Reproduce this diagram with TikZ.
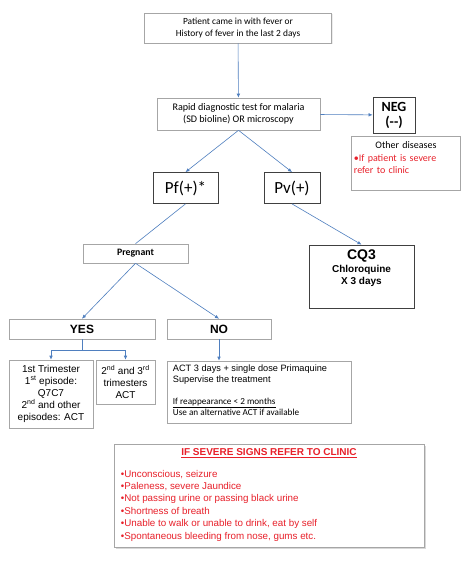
\documentclass[tikz,border=0pt]{standalone}
\usepackage{fontspec}
\setmainfont{Liberation Sans}
\newfontfamily\calfont{Carlito}
\usetikzlibrary{arrows.meta,positioning,shadows,calc}
\definecolor{arrowblue}{HTML}{4F7FBF}
\definecolor{boxgray}{HTML}{A6A6A6}
\definecolor{darkedge}{HTML}{404040}
\definecolor{alertred}{HTML}{E8202A}

\begin{document}
\begin{tikzpicture}[x=1pt, y=-1pt,
    lightbox/.style={draw=boxgray, line width=0.6pt, fill=white, inner sep=0pt,
        drop shadow={opacity=0.15, shadow xshift=1pt, shadow yshift=-1pt}},
    darkbox/.style={draw=darkedge, line width=0.8pt, fill=white, inner sep=0pt},
    conn/.style={draw=arrowblue, line width=0.6pt},
    arr/.style={conn, -{Latex[length=4pt,width=3.5pt]}}
    ]
        \useasboundingbox[fill=white] (0,0) rectangle (474,564);

        % Entry
        \node[lightbox, minimum width=187pt, minimum height=30pt, align=center,
              font=\calfont\fontsize{9.4}{12}\selectfont] (fever) at (238,28)
            {Patient came in with fever or\\History of fever in the last 2 days};

        % Test
        \node[lightbox, minimum width=163pt, minimum height=32pt, align=center,
              font=\calfont\fontsize{10.1}{12}\selectfont] (rdt) at (238.5,114)
            {Rapid diagnostic test for malaria\\(SD bioline) OR microscopy};

        % Negative branch
        \node[darkbox, minimum width=42pt, minimum height=36pt, align=center,
              font=\calfont\bfseries\fontsize{14}{15}\selectfont] (neg) at (394,115)
            {NEG\\(-{}-)};
        \node[lightbox, minimum width=109pt, minimum height=54pt] (other) at (405.5,163) {};
        \node[anchor=north west, inner sep=0pt, text width=104pt, align=left,
              font=\calfont\fontsize{10}{12.5}\selectfont] (othertxt) at ($(other.north west)+(3,6)$)
            {\makebox[\linewidth]{Other diseases}\\
             \textcolor{alertred}{•If patient is severe}\\
             \textcolor{alertred}{refer to clinic}};

        % Species
        \node[darkbox, minimum width=65pt, minimum height=31pt,
              font=\calfont\fontsize{17}{20}\selectfont] (pf) at (185.5,188) {Pf(+)*};
        \node[darkbox, minimum width=56pt, minimum height=31pt,
              font=\calfont\fontsize{17}{20}\selectfont] (pv) at (292,188) {Pv(+)};

        % Vivax treatment
        \node[darkbox, minimum width=105pt, minimum height=63pt] (cq) at (361.5,276.5) {};
        \node[anchor=north, inner sep=0pt, align=center,
              font=\bfseries\fontsize{10}{12.5}\selectfont] (cqtxt) at ($(cq.north)+(0,5)$)
            {{\fontsize{14}{16}\selectfont CQ3}\\Chloroquine\\X 3 days};

        % Falciparum
        \node[lightbox, minimum width=105pt, minimum height=19pt,
              font=\calfont\bfseries\fontsize{9.8}{11}\selectfont] (preg) at (135.5,253.5) {Pregnant};
        \node[lightbox, minimum width=146pt, minimum height=20pt,
              font=\bfseries\fontsize{12}{13}\selectfont] (yes) at (82,329) {YES};
        \node[lightbox, minimum width=104pt, minimum height=20pt,
              font=\bfseries\fontsize{12}{13}\selectfont] (no) at (219,329) {NO};

        \node[lightbox, minimum width=84pt, minimum height=68pt, align=center,
              font=\fontsize{10}{12}\selectfont] (tri1) at (51,394)
            {1st Trimester\\1\textsuperscript{st} episode:\\Q7C7\\2\textsuperscript{nd} and other\\episodes: ACT};
        \node[lightbox, minimum width=59pt, minimum height=44pt, align=center,
              font=\fontsize{10}{12}\selectfont] (tri23) at (125.5,382)
            {2\textsuperscript{nd} and 3\textsuperscript{rd}\\trimesters\\ACT};

        \node[lightbox, minimum width=184pt, minimum height=62pt] (act) at (259,392) {};
        \node[anchor=north west, inner sep=0pt, align=left,
              font=\fontsize{9.2}{11}\selectfont] (acttxt) at ($(act.north west)+(6,4)$)
            {ACT 3 days + single dose Primaquine\\Supervise the treatment};
        \node[anchor=north west, inner sep=0pt, align=left,
              font=\calfont\fontsize{9.2}{11}\selectfont] (actnote) at ($(act.north west)+(6,37)$)
            {\underline{If reappearance < 2 months}\\Use an alternative ACT if available};

        % Danger signs
        \node[lightbox, minimum width=310pt, minimum height=103pt,
              drop shadow={opacity=0.3, shadow xshift=1.5pt, shadow yshift=-1.5pt}] (severe) at (269,495.5) {};
        \node[inner sep=0pt, text=alertred, font=\bfseries\fontsize{10}{11}\selectfont] (severetitle) at (269,453)
            {\underline{IF SEVERE SIGNS REFER TO CLINIC}};
        \node[anchor=north west, inner sep=0pt, align=left, text=alertred,
              font=\fontsize{9.8}{12.4}\selectfont] (signs) at ($(severe.north west)+(7,26)$)
            {•Unconscious, seizure\\
             •Paleness, severe Jaundice\\
             •Not passing urine or passing black urine\\
             •Shortness of breath\\
             •Unable to walk or unable to drink, eat by self\\
             •Spontaneous bleeding from nose, gums etc.};

        % Connectors
        \draw[arr] (fever) -- (rdt);
        \draw[arr] (rdt) -- (neg);
        \draw[arr] (rdt.south) -- (pf.north);
        \draw[arr] (rdt.south) -- (pv.north);
        \draw[arr] (pv.south) -- (cq.north);
        \draw[conn] (pf.south) -- (preg.north);
        \draw[arr] (preg.south) -- (yes.north);
        \draw[arr] (preg.south) -- (no.north);
        \draw[conn] (yes.south) -- ++(0,11) coordinate (split);
        \draw[arr] (split) -| (tri1.north);
        \draw[arr] (split) -| (tri23.north);
        \draw[arr] (no.south) -- (no.south |- act.north);
    \end{tikzpicture}
\end{document}
